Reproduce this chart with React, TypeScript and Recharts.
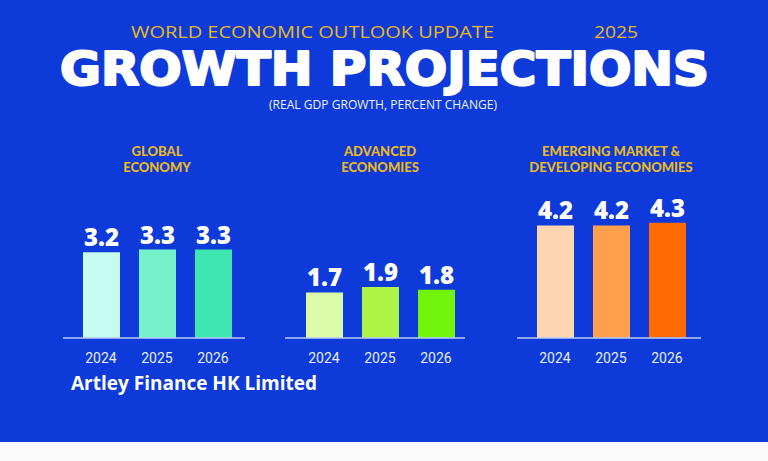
import React from "react";
import { Bar, BarChart, Cell, LabelList, XAxis, YAxis } from "recharts";

const years = ["2024", "2025", "2026"];

const globalValues = [3.2, 3.3, 3.3];
const advancedValues = [1.7, 1.9, 1.8];
const emergingValues = [4.2, 4.2, 4.3];

const globalColors = ["#c6fbef", "#76f1c9", "#3fe6b0"];
const advancedColors = ["#dcfbaa", "#aef447", "#72f30c"];
const emergingColors = ["#fdd5b1", "#ff9f4b", "#ff6a03"];

const BLUE = "#0d3ad8";
const GOLD = "#e8b923";

type PanelProps = {
  title: string[];
  values: number[];
  colors: string[];
  left: number;
  width: number;
  padLeft: number;
  padRight: number;
};

function Panel({ title, values, colors, left, width, padLeft, padRight }: PanelProps) {
  const data = years.map((year, i) => ({ year, value: values[i] }));
  const centre = left + padLeft + (width - padLeft - padRight) / 2;

  return (
    <>
      <div
        style={{
          position: "absolute",
          left: centre - 110,
          top: 143,
          width: 220,
          textAlign: "center",
          color: GOLD,
          fontFamily: "Lato, sans-serif",
          fontWeight: 900,
          fontSize: 13,
          lineHeight: "16px",
        }}
      >
        {title.map((line) => (
          <div key={line}>{line}</div>
        ))}
      </div>
      <div style={{ position: "absolute", left, top: 130 }}>
        <BarChart width={width} height={238} data={data} margin={{ top: 74, right: 0, bottom: 0, left: 0 }}>
          <YAxis hide domain={[0, 5]} />
          <XAxis
            dataKey="year"
            height={30}
            padding={{ left: padLeft, right: padRight }}
            axisLine={{ stroke: "#b9ccff", strokeWidth: 1.5 }}
            tickLine={false}
            tickSize={0}
            tickMargin={15}
            tick={{ fill: "#e6ecff", fontSize: 14, fontFamily: "Roboto, sans-serif" }}
          />
          <Bar dataKey="value" barSize={37} isAnimationActive={false}>
            {data.map((d, i) => (
              <Cell key={d.year} fill={colors[i]} />
            ))}
            <LabelList
              dataKey="value"
              position="top"
              offset={6}
              fill="#ffffff"
              style={{ fontSize: 24, fontWeight: 800, fontFamily: "'Open Sans', sans-serif" }}
            />
          </Bar>
        </BarChart>
      </div>
    </>
  );
}

export default function App() {
  return (
    <div style={{ position: "absolute", left: 0, top: 0, width: 768, height: 461, background: "#fafafa", overflow: "hidden" }}>
      <div style={{ position: "absolute", left: 0, top: 0, width: 768, height: 442, background: BLUE }} />

      <svg width={768} height={130} style={{ position: "absolute", left: 0, top: 0 }}>
        <text
          x={131}
          y={38}
          fill={GOLD}
          fontSize={17}
          fontFamily="'Open Sans', sans-serif"
          textLength={363}
          lengthAdjust="spacingAndGlyphs"
        >
          WORLD ECONOMIC OUTLOOK UPDATE
        </text>
        <text x={594} y={38} fill={GOLD} fontSize={17} fontFamily="'Open Sans', sans-serif" textLength={44} lengthAdjust="spacingAndGlyphs">
          2025
        </text>
        <text
          x={60}
          y={85}
          fill="#ffffff"
          stroke="#ffffff"
          strokeWidth={2.2}
          strokeLinejoin="round"
          fontSize={46}
          fontWeight={700}
          fontFamily="'DejaVu Sans', sans-serif"
          textLength={649}
          lengthAdjust="spacingAndGlyphs"
        >
          GROWTH PROJECTIONS
        </text>
        <text
          x={269}
          y={109}
          fill="#eef2ff"
          fontSize={12.5}
          fontFamily="'Open Sans', sans-serif"
          textLength={228}
          lengthAdjust="spacingAndGlyphs"
        >
          (REAL GDP GROWTH, PERCENT CHANGE)
        </text>
      </svg>

      <Panel title={["GLOBAL", "ECONOMY"]} values={globalValues} colors={globalColors} left={63} width={182} padLeft={10} padRight={4} />
      <Panel title={["ADVANCED", "ECONOMIES"]} values={advancedValues} colors={advancedColors} left={285} width={180} padLeft={11} padRight={1} />
      <Panel
        title={["EMERGING MARKET &", "DEVELOPING ECONOMIES"]}
        values={emergingValues}
        colors={emergingColors}
        left={517}
        width={184}
        padLeft={10}
        padRight={6}
      />

      <div
        style={{
          position: "absolute",
          left: 71,
          top: 371,
          color: "#ffffff",
          fontFamily: "'Open Sans', sans-serif",
          fontWeight: 700,
          fontSize: 19,
          lineHeight: "25px",
          whiteSpace: "nowrap",
        }}
      >
        Artley Finance HK Limited
      </div>
    </div>
  );
}
